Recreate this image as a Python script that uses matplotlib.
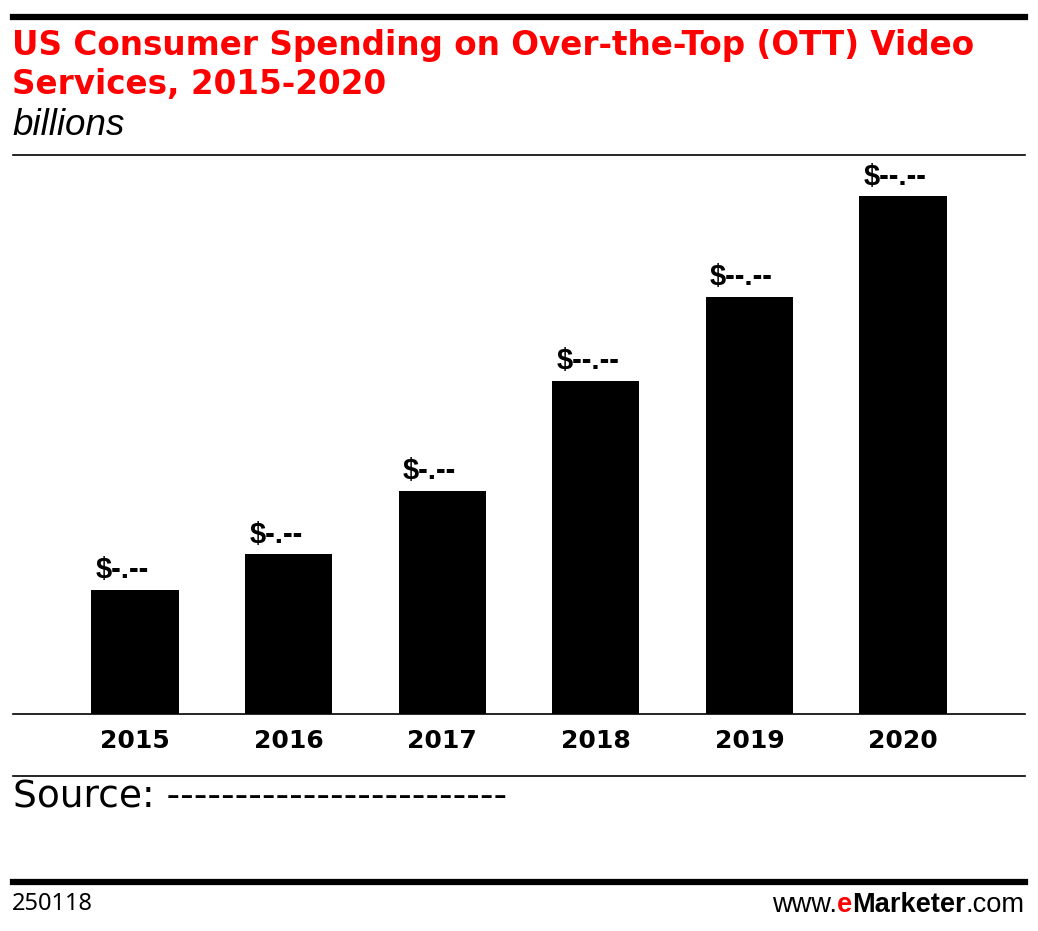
import matplotlib.pyplot as plt
from matplotlib.lines import Line2D

# --- data ---
years = ['2015', '2016', '2017', '2018', '2019', '2020']
spending = [4.77, 6.15, 8.58, 12.81, 16.04, 19.92]  # billions
value_labels = ['$-.--', '$-.--', '$-.--', '$--.--', '$--.--', '$--.--']

W, H = 1038, 931
fig = plt.figure(figsize=(W / 100, H / 100), dpi=100)


def fx(px):
    return px / W


def fy(py):
    return 1 - py / H


# plot area: x 13..1025, y 155..714 (pixels)
ax = fig.add_axes([fx(13), fy(714), fx(1025) - fx(13), fy(155) - fy(714)])
x = range(len(years))
bar_w = 0.567
ax.bar(x, spending, width=bar_w, color='black')
for i, (v, lab) in enumerate(zip(spending, value_labels)):
    ax.annotate(lab, (i - bar_w / 2, v), xytext=(3, 4), textcoords='offset points',
                ha='left', va='bottom', fontsize=21, fontweight='bold',
                family='Liberation Sans')
ax.set_xlim(-0.794, 5.794)
ax.set_ylim(0, 21.5)
ax.set_xticks(list(x))
ax.set_xticklabels(years, fontsize=18, fontweight='bold')
ax.tick_params(axis='x', length=0, pad=11)
ax.set_yticks([])
for s in ['left', 'right', 'top']:
    ax.spines[s].set_visible(False)
ax.spines['bottom'].set_linewidth(1.2)

# --- horizontal rules ---
def hline(py, lw):
    fig.add_artist(Line2D([fx(13), fx(1025)], [fy(py), fy(py)], color='black', linewidth=lw))


hline(16.5, 4.5)
hline(155, 1.2)
hline(776, 1.2)
hline(882, 4.5)

# --- texts ---
fig.text(fx(12), fy(29), 'US Consumer Spending on Over-the-Top (OTT) Video\nServices, 2015-2020',
         color='#ff0000', fontsize=23.5, fontweight='bold', ha='left', va='top', linespacing=1.22)
fig.text(fx(12), fy(108), 'billions', fontsize=26.5, style='italic', family='Liberation Sans',
         ha='left', va='top')
fig.text(fx(13), fy(779), 'Source: -------------------------', fontsize=27, ha='left', va='top')
fig.text(fx(12), fy(892), '250118', fontsize=17, family='Noto Sans', ha='left', va='top')

foot = dict(fontsize=19.6, family='Liberation Sans', va='top', ha='right')
t1 = fig.text(fx(1025), fy(892), '.com', **foot)
fig.canvas.draw()
r = fig.canvas.get_renderer()
bb = t1.get_window_extent(r)
t2 = fig.text(bb.x0 / W, fy(892), 'Marketer', fontweight='bold', **foot)
bb = t2.get_window_extent(r)
t3 = fig.text(bb.x0 / W, fy(892), 'e', fontweight='bold', color='#ff0000', **foot)
bb = t3.get_window_extent(r)
fig.text(bb.x0 / W, fy(892), 'www.', **foot)

fig.savefig('out.png', dpi=100)
